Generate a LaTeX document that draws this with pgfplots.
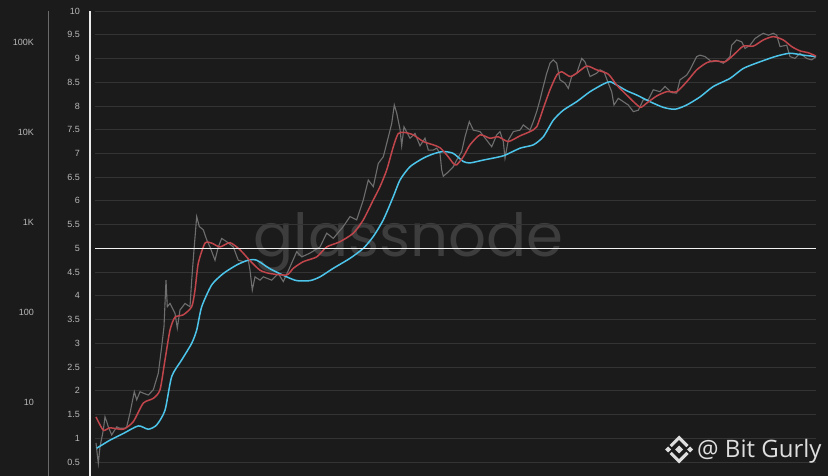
\documentclass[border=0pt]{standalone}
\usepackage{fontspec}
\setmainfont{Liberation Sans}
\newfontfamily\wmfont{Poppins}
\newfontfamily\sigfont{Open Sans}
\usepackage{pgfplots}
\pgfplotsset{compat=1.18}
\definecolor{bg}{HTML}{1B1B1B}
\definecolor{gridc}{HTML}{343434}
\definecolor{tickc}{HTML}{B8B8B8}
\definecolor{pricec}{HTML}{6E6E6E}
\definecolor{redc}{HTML}{C0464C}
\definecolor{cyanc}{HTML}{4DC4EA}
\definecolor{wmc}{HTML}{3D3D3D}
\definecolor{sigc}{HTML}{DEDEDE}
\definecolor{laxis}{HTML}{6A6A6A}
\begin{document}
\begin{tikzpicture}[x=1pt,y=1pt]
\fill[bg] (0,0) rectangle (828,476);
\node[anchor=base west, inner sep=0, text=wmc] at (253,219) {\resizebox{310pt}{!}{\wmfont glassnode}};
% left log axis
\begin{axis}[at={(48pt,0pt)}, anchor=south west, scale only axis,
  width=10pt, height=465pt, xmin=0, xmax=1,
  ymode=log, log basis y=10, ymin=1.506, ymax=220800,
  axis y line=left, axis x line=none,
  axis line style={-, draw=laxis, line width=0.8pt},
  ytick={10,100,1000,10000,100000}, yticklabels={10,100,1K,10K,100K},
  major tick length=0pt,
  yticklabel style={text=tickc, font=\fontsize{9}{10}\selectfont, inner sep=0pt, xshift=-14pt},
]
\end{axis}
% main axis
\begin{axis}[at={(90pt,0pt)}, anchor=south west, scale only axis,
  width=727pt, height=465pt, xmin=90, xmax=817, ymin=0.205, ymax=10,
  axis y line=left, axis x line=none,
  axis line style={-, draw=white!92!black, line width=2pt},
  ytick={0.5,1,1.5,2,2.5,3,3.5,4,4.5,5,5.5,6,6.5,7,7.5,8,8.5,9,9.5,10},
  yticklabels={0.5,1,1.5,2,2.5,3,3.5,4,4.5,5,5.5,6,6.5,7,7.5,8,8.5,9,9.5,10},
  major tick length=0pt,
  yticklabel style={text=tickc, font=\fontsize{9}{10}\selectfont, inner sep=0pt, xshift=-10pt},
  clip=false,
]
\pgfplotsinvokeforeach{0.5,1,1.5,2,2.5,3,3.5,4,4.5,5.5,6,6.5,7,7.5,8,8.5,9,9.5,10}{
  \draw[gridc, line width=0.8pt] (axis cs:95,#1) -- (axis cs:816,#1);
}
% price
\addplot[pricec, line width=1.1pt] coordinates {
(96,0.90)(98.3,0.47)(100,0.82)(103.3,1.17)(105,1.45)(106.7,1.35)(108.3,1.24)(111.7,1.07)(116.7,1.24)(120,1.21)(125,1.21)(126.7,1.24)(130,1.53)(134.3,1.98)(136.7,1.81)(140,1.98)(143.3,1.95)(148.3,1.91)(153.3,2.02)(158.3,2.37)(161.7,2.93)(164,3.35)(166,4.33)(167.3,3.77)(170,3.84)(175,3.63)(177.3,3.32)(180,3.70)(185,3.84)(190,3.77)(191.7,4.33)(194,4.97)(196.7,5.67)(199.3,5.46)(203.3,5.39)(206.7,5.18)(210,5.03)(215,4.75)(218.3,5.03)(221.7,5.21)(226.7,5.14)(233.3,5.03)(238.3,4.75)(243.3,4.72)(248.3,4.75)(250,4.54)(252.3,4.12)(255,4.40)(260,4.33)(263.3,4.40)(271.7,4.33)(278.3,4.47)(283.3,4.30)(290,4.61)(296.7,4.93)(301.7,4.82)(310,4.90)(320,5.03)(326.7,5.32)(333.3,5.21)(343.3,5.46)(350,5.67)(356.7,5.60)(363.3,6.02)(368.3,6.44)(373.3,6.30)(378.3,6.79)(383.3,6.93)(386.7,7.21)(391.7,7.63)(394.3,8.02)(396.7,7.85)(400,7.51)(401.7,7.16)(404,7.56)(410,7.32)(415,7.42)(420,7.16)(425,7.32)(428.3,7.07)(433.3,7.07)(436.7,7.11)(440,7.00)(441.7,6.65)(443.3,6.52)(448.3,6.61)(453.3,6.72)(456.7,6.86)(461.7,7.04)(465,7.35)(469.3,7.67)(473.3,7.49)(480,7.46)(486.7,7.28)(491.7,7.14)(496.7,7.39)(500,7.46)(503.3,7.25)(505,6.90)(508.3,7.28)(513.3,7.46)(520,7.49)(523.3,7.60)(530,7.49)(533.3,7.67)(536.7,7.88)(540,8.13)(543.3,8.41)(546.7,8.69)(550,8.90)(553.3,8.97)(556.7,8.90)(560,8.55)(565,8.48)(568.3,8.37)(571.7,8.62)(576.7,8.69)(581.7,9.00)(585,8.93)(590,8.62)(596.7,8.69)(600,8.76)(604,8.72)(608.3,8.48)(611.7,8.30)(614,8.02)(618.3,8.16)(623.3,8.09)(628.3,8.02)(633.3,7.88)(638.3,7.91)(643.3,8.13)(648.3,8.13)(653.3,8.34)(660,8.30)(665,8.41)(671.7,8.28)(676.7,8.27)(680,8.55)(686.7,8.65)(690,8.76)(696.7,9.04)(700,9.07)(705,9.04)(711.7,8.93)(718,8.95)(723.3,8.90)(730,9.04)(731.7,9.28)(736.7,9.39)(741.7,9.35)(745,9.21)(750,9.28)(755,9.42)(760,9.49)(763.3,9.53)(768.3,9.49)(773.3,9.53)(776.7,9.49)(780,9.25)(786.7,9.28)(790,9.04)(795,9.00)(800,9.11)(806.7,9.00)(811.7,8.97)(816,9.04)
};
% long MA (cyan)
\addplot[cyanc, line width=1.5pt, smooth, tension=0.4] coordinates {
(96.7,0.79)(110,0.96)(123.3,1.10)(138.3,1.26)(148.3,1.19)(156.7,1.28)(165,1.59)(171.7,2.30)(181.7,2.65)(191.7,3.00)(196.7,3.28)(201.7,3.77)(211.7,4.23)(223.3,4.47)(236.7,4.65)(248,4.75)(256.7,4.75)(270,4.57)(286.7,4.40)(296.7,4.32)(310,4.32)(320,4.40)(333.3,4.58)(350,4.79)(363.3,5.00)(373.3,5.25)(383.3,5.60)(393.3,6.09)(400,6.44)(410,6.72)(423.3,6.90)(433.3,6.99)(443.3,7.04)(453.3,7.00)(463.3,6.83)(470,6.80)(483.3,6.86)(503.3,6.95)(520,7.11)(533.3,7.18)(543.3,7.35)(553.3,7.70)(563.3,7.91)(576.7,8.09)(590,8.30)(603.3,8.46)(610,8.51)(616.7,8.44)(626.7,8.32)(636.7,8.23)(650,8.09)(663.3,7.97)(675,7.93)(686.7,8.02)(700,8.19)(713.3,8.41)(730,8.58)(743.3,8.79)(760,8.93)(776.7,9.05)(790,9.11)(803.3,9.07)(816,9.04)
};
% short MA (red)
\addplot[redc, line width=1.5pt, smooth, tension=0.4] coordinates {
(96,1.45)(103.3,1.17)(110,1.22)(123.3,1.19)(133.3,1.35)(143.3,1.74)(153.3,1.84)(160,2.02)(165,2.65)(170,3.28)(175,3.55)(183.3,3.60)(191.7,3.77)(195,4.12)(198.3,4.69)(205,5.11)(211.7,5.11)(220,5.03)(230,5.12)(240,4.97)(250,4.74)(260,4.54)(270,4.47)(286.7,4.44)(293.3,4.58)(303.3,4.72)(316.7,4.82)(326.7,5.03)(340,5.14)(353.3,5.32)(363.3,5.60)(373.3,6.02)(380,6.30)(386.7,6.65)(393.3,7.14)(398.3,7.42)(405,7.44)(413.3,7.39)(423.3,7.25)(433.3,7.18)(440,7.12)(446.7,6.97)(453.3,6.79)(456.7,6.76)(463.3,6.93)(470,7.18)(480,7.39)(490,7.32)(498.3,7.35)(508.3,7.25)(520,7.37)(530,7.46)(536.7,7.56)(543.3,7.95)(550,8.34)(556.7,8.65)(561.7,8.72)(570,8.62)(576.7,8.69)(586.7,8.84)(596.7,8.76)(608.3,8.67)(616.7,8.44)(626.7,8.23)(635,8.06)(640.7,7.97)(646.7,8.06)(656.7,8.21)(666.7,8.30)(676.7,8.30)(686.7,8.51)(696.7,8.76)(706.7,8.91)(715,8.95)(725,8.93)(733.3,9.07)(743.3,9.26)(753.3,9.26)(763.3,9.39)(773.3,9.46)(783.3,9.39)(791.7,9.25)(800,9.16)(808.3,9.12)(816,9.05)
};
\draw[white!95!black, line width=1.7pt] (axis cs:95,5) -- (axis cs:816,5);
\end{axis}
% signature
\begin{scope}[shift={(679,26.5)}]
\fill[sigc] (0,4)--(4,0)--(0,-4)--(-4,0)--cycle;
\fill[sigc] (-11,3)--(-8,0)--(-11,-3)--(-14,0)--cycle;
\fill[sigc] (11,3)--(14,0)--(11,-3)--(8,0)--cycle;
\fill[sigc] (-9.5,4.5)--(0,14)--(9.5,4.5)--(7.3,2.3)--(0,9.6)--(-7.3,2.3)--cycle;
\fill[sigc] (-9.5,-4.5)--(0,-14)--(9.5,-4.5)--(7.3,-2.3)--(0,-9.6)--(-7.3,-2.3)--cycle;
\end{scope}
\node[anchor=base west, inner sep=0, text=sigc, font=\sigfont\fontsize{24}{24}\selectfont] at (697,18) {@ Bit Gurly};
\pgfresetboundingbox
\useasboundingbox (0,0) rectangle (828,476);
\end{tikzpicture}
\end{document}
